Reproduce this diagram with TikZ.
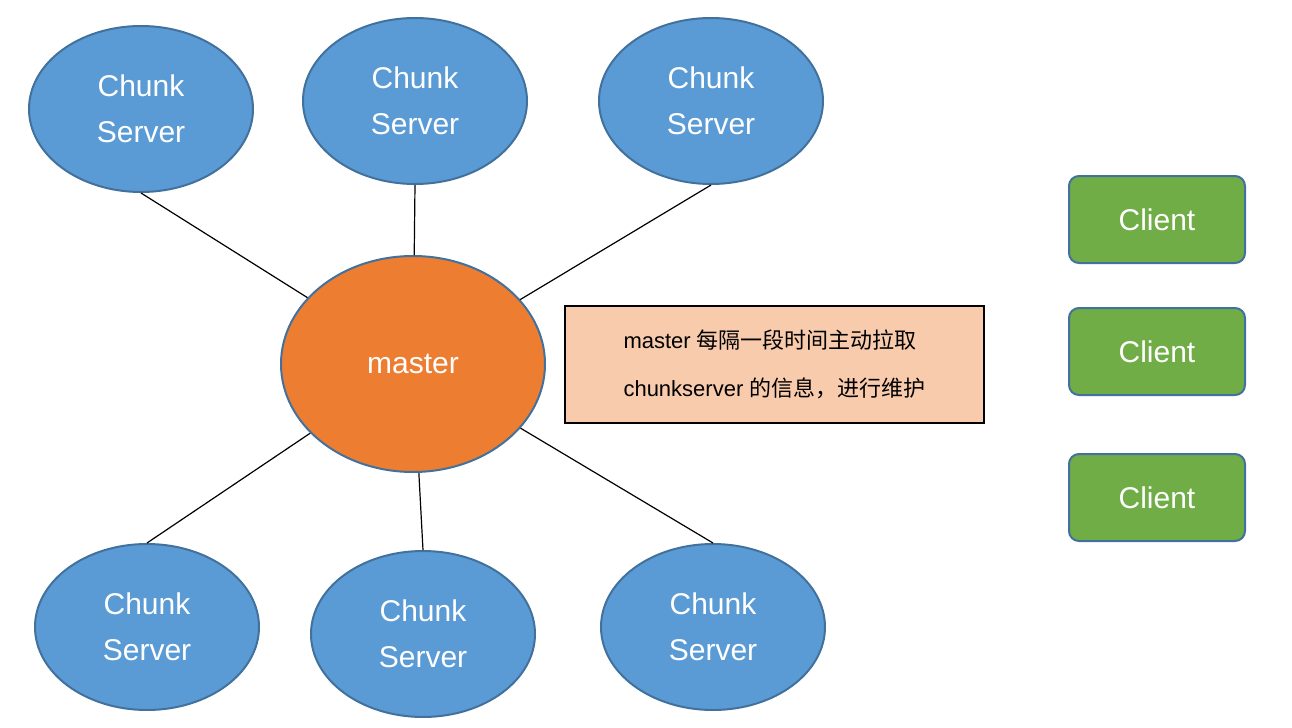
\documentclass[tikz,border=0pt]{standalone}
\usepackage{fontspec}
\setmainfont{Liberation Sans}
\newfontfamily\cjk{Noto Sans CJK SC}
\usetikzlibrary{shapes.geometric}
\definecolor{cblue}{HTML}{5B9BD5}
\definecolor{cborder}{HTML}{41719C}
\definecolor{corange}{HTML}{ED7D31}
\definecolor{cgreen}{HTML}{70AD47}
\definecolor{cpeach}{HTML}{F8CBAD}
\tikzset{
  chunk/.style={ellipse, draw=cborder, line width=1pt, fill=cblue, text=white,
    minimum width=224*0.5pt, minimum height=166*0.5pt, inner sep=0pt,
    font=\fontsize{15}{23}\selectfont, align=center},
  client/.style={rectangle, rounded corners=5pt, draw=cborder, line width=1pt, fill=cgreen,
    text=white, minimum width=176*0.5pt, minimum height=87*0.5pt, font=\fontsize{15}{18}\selectfont},
  link/.style={draw=black, line width=0.6pt}
}
\begin{document}
\begin{tikzpicture}[x=0.5pt,y=-0.5pt]
\useasboundingbox (0,0) rectangle (1292,728);
\node[chunk] (tl) at (141,109) {Chunk\\Server};
\node[chunk] (tm) at (415,101) {Chunk\\Server};
\node[chunk] (tr) at (711,101) {Chunk\\Server};
\node[chunk] (bl) at (147,627) {Chunk\\Server};
\node[chunk] (bm) at (423,634) {Chunk\\Server};
\node[chunk] (br) at (713,627) {Chunk\\Server};
\node[ellipse, draw=cborder, line width=1pt, fill=corange, text=white,
  minimum width=264*0.5pt, minimum height=216*0.5pt, inner sep=0pt,
  font=\fontsize{15}{18}\selectfont] (m) at (413,364) {master};
\node[rectangle, draw=black, line width=0.6pt, fill=cpeach, minimum width=419*0.5pt,
  minimum height=117*0.5pt, align=left, font=\fontsize{11}{24}\selectfont]
  (note) at (774.5,364.5) {master {\cjk 每隔一段时间主动拉取}\\chunkserver {\cjk 的信息，进行维护}};
\node[client] (c1) at (1157,219.5) {Client};
\node[client] (c2) at (1157,351.5) {Client};
\node[client] (c3) at (1157,497.5) {Client};
\draw[link] (tl.south) -- (m);
\draw[link] (tm.south) -- (m);
\draw[link] (tr.south) -- (m);
\draw[link] (bl.north) -- (m);
\draw[link] (bm.north) -- (m);
\draw[link] (br.north) -- (m);
\end{tikzpicture}
\end{document}
